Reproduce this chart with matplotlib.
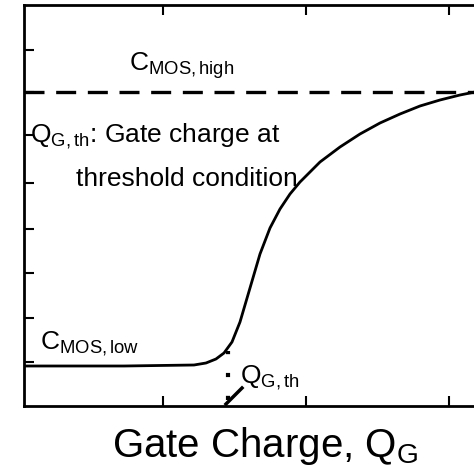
import matplotlib
matplotlib.use("Agg")
import matplotlib.pyplot as plt

plt.rcParams['font.family'] = ['Liberation Sans', 'DejaVu Sans']
plt.rcParams['mathtext.fontset'] = 'custom'
plt.rcParams['mathtext.rm'] = 'Liberation Sans'
plt.rcParams['mathtext.it'] = 'Liberation Sans'

# curve (x: gate charge, y: capacitance) in arbitrary units
qg = [0, 100, 170, 182, 192, 200, 208, 216, 226, 236, 246, 256, 266, 276, 296, 316, 336, 356, 376, 396, 416, 436, 456]
cmos = [40, 40, 41, 43, 47, 53, 64, 84, 118, 152, 178, 197, 212, 224, 244, 259, 272, 283, 292, 300, 306, 311, 315]
c_high = 314
q_th = 204
xticks = [139, 282, 425]
yticks = [44, 88, 133, 177, 223, 271, 314, 356]

fig = plt.figure(figsize=(4.74, 4.74), dpi=100)
ax = fig.add_axes([24/474, 68/474, 460/474, 401/474])
ax.set_xlim(0, 460)
ax.set_ylim(0, 401)
ax.plot(qg, cmos, color='black', lw=2)
ax.axhline(c_high, color='black', lw=2.4, ls=(0, (6, 3.5)))
ax.plot([q_th, q_th], [6, 55], color='black', lw=3, ls=(0, (1, 4.5)))
ax.plot([q_th - 2, q_th + 14], [2, 18], color='black', lw=2.5)
ax.set_xticks(xticks)
ax.set_yticks(yticks)
ax.set_xticklabels([])
ax.set_yticklabels([])
ax.tick_params(direction='in', length=7, width=1.5, top=True, right=False)
for s in ax.spines.values():
    s.set_linewidth(2)

fs = 19
ax.text(105, 340, r'$\mathrm{C_{MOS,high}}$', fontsize=fs, ha='left', va='center')
ax.text(6, 270, r'$\mathrm{Q_{G,th}}$: Gate charge at', fontsize=fs, ha='left', va='center')
ax.text(52, 227, 'threshold condition', fontsize=fs, ha='left', va='center')
ax.text(16, 62, r'$\mathrm{C_{MOS,low}}$', fontsize=fs, ha='left', va='center')
ax.text(216, 28, r'$\mathrm{Q_{G,th}}$', fontsize=fs, ha='left', va='center')
fig.text(0.56, 0.06, r'Gate Charge, $\mathrm{Q_G}$', fontsize=29, ha='center', va='center')

fig.savefig('out.png', dpi=100)
